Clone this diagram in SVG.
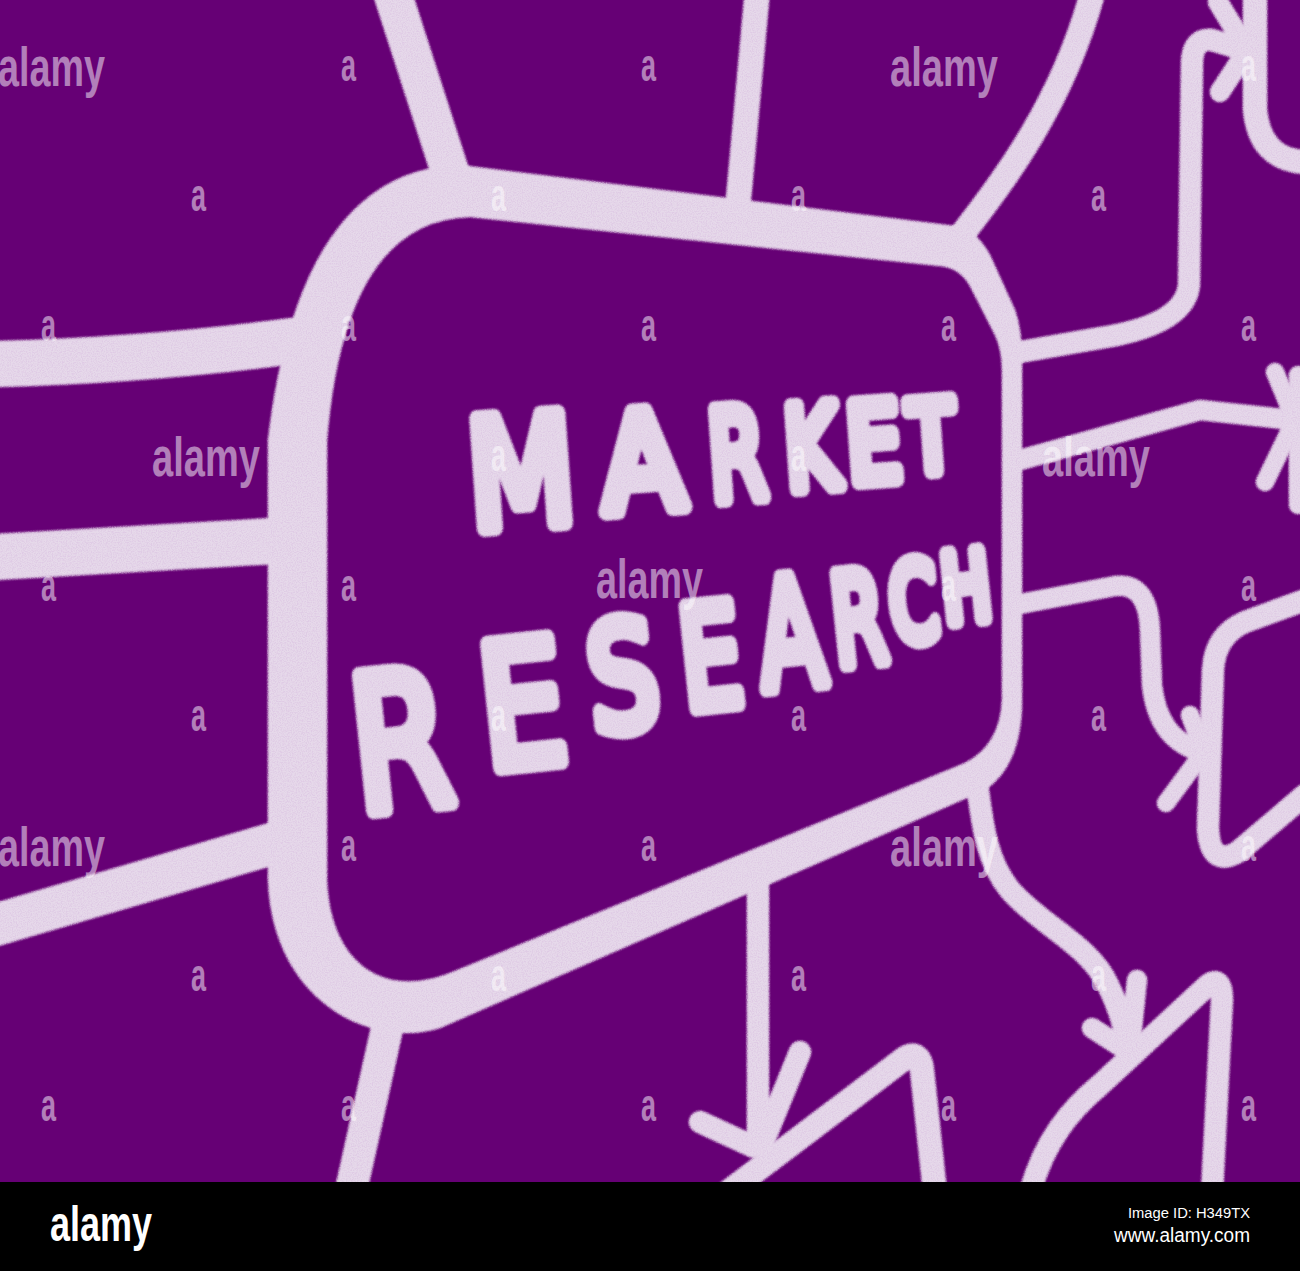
<svg xmlns="http://www.w3.org/2000/svg" width="1300" height="1271" viewBox="0 0 1300 1271">
<defs>
<style>
.ln{fill:none;stroke:#e6d9ea;stroke-linecap:round;stroke-linejoin:round}
.lt{fill:#e6d9ea;stroke:#e6d9ea;stroke-width:17;stroke-linejoin:round;stroke-linecap:round;font-family:"DejaVu Sans","Liberation Sans",sans-serif;font-weight:normal}
.wm{fill:#ffffff;fill-opacity:0.5;font-family:"Liberation Sans",Arial,sans-serif;font-weight:bold}
.ft{fill:#ffffff;font-family:"Liberation Sans",Arial,sans-serif}
</style>
<filter id="chalk" filterUnits="userSpaceOnUse" x="0" y="0" width="1300" height="1190">
<feTurbulence type="fractalNoise" baseFrequency="0.8" numOctaves="2" seed="7" result="noise"/>
<feColorMatrix in="noise" type="matrix" values="0 0 0 0 0.74  0 0 0 0 0.6  0 0 0 0 0.78  0 0 0 -3 1.85" result="spk"/>
<feGaussianBlur in="SourceGraphic" stdDeviation="1.3" result="soft"/>
<feComposite in="spk" in2="soft" operator="in" result="spkIn"/>
<feMerge><feMergeNode in="soft"/><feMergeNode in="spkIn"/></feMerge>
</filter>
</defs>
<rect x="0" y="0" width="1300" height="1271" fill="#660075"/>

<g id="connectors" filter="url(#chalk)">
<path class="ln" stroke-width="38" d="M393 -5 L452 178"/>
<path class="ln" stroke-width="25" d="M757 -5 L738 205"/>
<path class="ln" stroke-width="25" d="M958 240 C1000 185 1060 110 1092 -5"/>
<path class="ln" stroke-width="46" d="M-5 364 Q150 360 292 341"/>
<path class="ln" stroke-width="46" d="M-5 557 Q150 548 292 540"/>
<path class="ln" stroke-width="42" d="M-5 925 L292 838"/>
<path class="ln" stroke-width="32" d="M390 1015 L350 1195"/>
<path class="ln" stroke-width="22" d="M758 885 L758 1145"/>
<path class="ln" stroke-width="22" d="M700 1122 L754 1147 M800 1052 L762 1145"/>
<path class="ln" stroke-width="22" d="M976 775 C982 820 985 860 1010 890 C1040 925 1090 945 1108 985 C1120 1010 1126 1030 1128 1050"/>
<path class="ln" stroke-width="20" d="M1092 1028 L1126 1050 M1137 980 L1130 1048"/>
<path class="ln" stroke-width="22" d="M1020 352 L1100 338 Q1185 325 1189 285 L1192 62 Q1193 38 1212 40 L1245 50"/>
<path class="ln" stroke-width="20" d="M1218 2 L1246 48 M1220 92 L1246 52"/>
<path class="ln" stroke-width="20" d="M1020 460 L1200 410 L1293 420"/>
<path class="ln" stroke-width="18" d="M1275 372 L1294 418 M1265 482 L1294 422"/>
<path class="ln" stroke-width="20" d="M1020 604 L1115 586 Q1148 582 1150 630 L1152 685 Q1158 740 1202 752"/>
<path class="ln" stroke-width="18" d="M1190 715 L1203 750 M1166 803 L1203 753"/>
</g>

<g id="node-market-research" filter="url(#chalk)">
<path fill="#e6d9ea" fill-rule="evenodd" d="M268 880 L268 440 Q300 170 460 165 L955 226 Q975 228 990 255 L1015 310 Q1022 330 1022 360 L1022 700 Q1022 765 985 790 L440 1028 C370 1050 272 1000 268 880 Z M327 880 L327 440 Q345 220 470 217 L940 266 Q962 268 972 290 L995 335 Q1002 350 1002 370 L1002 700 Q1000 745 965 763 L450 973 C380 1000 330 960 327 880 Z"/>
<text class="lt" font-size="150" x="472" y="529" textLength="106" lengthAdjust="spacingAndGlyphs" transform="rotate(-4 472 529)">M</text>
<text class="lt" font-size="134" x="605" y="512" textLength="81" lengthAdjust="spacingAndGlyphs" transform="rotate(-4 605 512)">A</text>
<text class="lt" font-size="123" x="712" y="500" textLength="56" lengthAdjust="spacingAndGlyphs" transform="rotate(-4 712 500)">R</text>
<text class="lt" font-size="112" x="788" y="489" textLength="52" lengthAdjust="spacingAndGlyphs" transform="rotate(-4 788 489)">K</text>
<text class="lt" font-size="106" x="850" y="482" textLength="53" lengthAdjust="spacingAndGlyphs" transform="rotate(-4 850 482)">E</text>
<text class="lt" font-size="95" x="912" y="472" textLength="44" lengthAdjust="spacingAndGlyphs" transform="rotate(-4 912 472)">T</text>
<text class="lt" font-size="186" x="359" y="812" textLength="98" lengthAdjust="spacingAndGlyphs" transform="rotate(-6 359 812)">R</text>
<text class="lt" font-size="170" x="487" y="769" textLength="84" lengthAdjust="spacingAndGlyphs" transform="rotate(-6 487 769)">E</text>
<text class="lt" font-size="147" x="594" y="732" textLength="69" lengthAdjust="spacingAndGlyphs" transform="rotate(-6 594 732)">S</text>
<text class="lt" font-size="139" x="686" y="709" textLength="60" lengthAdjust="spacingAndGlyphs" transform="rotate(-6 686 709)">E</text>
<text class="lt" font-size="149" x="764" y="689" textLength="64" lengthAdjust="spacingAndGlyphs" transform="rotate(-6 764 689)">A</text>
<text class="lt" font-size="124" x="837" y="665" textLength="52" lengthAdjust="spacingAndGlyphs" transform="rotate(-6 837 665)">R</text>
<text class="lt" font-size="106" x="894" y="642" textLength="47" lengthAdjust="spacingAndGlyphs" transform="rotate(-6 894 642)">C</text>
<text class="lt" font-size="92" x="946" y="622" textLength="47" lengthAdjust="spacingAndGlyphs" transform="rotate(-6 946 622)">H</text>
</g>

<g id="node-bottom" filter="url(#chalk)">
<path class="ln" stroke-width="24" d="M728 1192 L905 1058 Q920 1050 922 1070 L935 1192"/>
</g>
<g id="node-bottom-right" filter="url(#chalk)">
<path class="ln" stroke-width="22" d="M1030 1192 C1045 1140 1070 1110 1100 1085 L1208 985 Q1222 975 1222 1000 L1212 1192"/>
</g>
<g id="node-right-top" filter="url(#chalk)">
<path class="ln" stroke-width="24" d="M1255 -5 L1255 110 Q1260 160 1305 162"/>
</g>
<g id="node-right-middle" filter="url(#chalk)">
<path class="ln" stroke-width="18" d="M1298 375 L1298 505"/>
</g>
<g id="node-right-lower" filter="url(#chalk)">
<path class="ln" stroke-width="22" d="M1305 600 L1245 622 Q1215 635 1213 670 L1208 828 Q1210 868 1238 852 L1305 795"/>
</g>

<g id="watermarks" class="wm">
<g font-size="56">
<text x="-2" y="86" textLength="107" lengthAdjust="spacingAndGlyphs">alamy</text>
<text x="890" y="86" textLength="108" lengthAdjust="spacingAndGlyphs">alamy</text>
<text x="152" y="476" textLength="108" lengthAdjust="spacingAndGlyphs">alamy</text>
<text x="596" y="598" textLength="107" lengthAdjust="spacingAndGlyphs">alamy</text>
<text x="1042" y="476" textLength="108" lengthAdjust="spacingAndGlyphs">alamy</text>
<text x="-2" y="866" textLength="107" lengthAdjust="spacingAndGlyphs">alamy</text>
<text x="890" y="866" textLength="108" lengthAdjust="spacingAndGlyphs">alamy</text>
</g>
<g font-size="46">
<text x="341" y="81" textLength="15" lengthAdjust="spacingAndGlyphs">a</text>
<text x="641" y="81" textLength="15" lengthAdjust="spacingAndGlyphs">a</text>
<text x="1241" y="81" textLength="15" lengthAdjust="spacingAndGlyphs">a</text>
<text x="191" y="211" textLength="15" lengthAdjust="spacingAndGlyphs">a</text>
<text x="491" y="211" textLength="15" lengthAdjust="spacingAndGlyphs">a</text>
<text x="791" y="211" textLength="15" lengthAdjust="spacingAndGlyphs">a</text>
<text x="1091" y="211" textLength="15" lengthAdjust="spacingAndGlyphs">a</text>
<text x="41" y="341" textLength="15" lengthAdjust="spacingAndGlyphs">a</text>
<text x="341" y="341" textLength="15" lengthAdjust="spacingAndGlyphs">a</text>
<text x="641" y="341" textLength="15" lengthAdjust="spacingAndGlyphs">a</text>
<text x="941" y="341" textLength="15" lengthAdjust="spacingAndGlyphs">a</text>
<text x="1241" y="341" textLength="15" lengthAdjust="spacingAndGlyphs">a</text>
<text x="491" y="471" textLength="15" lengthAdjust="spacingAndGlyphs">a</text>
<text x="791" y="471" textLength="15" lengthAdjust="spacingAndGlyphs">a</text>
<text x="41" y="601" textLength="15" lengthAdjust="spacingAndGlyphs">a</text>
<text x="341" y="601" textLength="15" lengthAdjust="spacingAndGlyphs">a</text>
<text x="941" y="601" textLength="15" lengthAdjust="spacingAndGlyphs">a</text>
<text x="1241" y="601" textLength="15" lengthAdjust="spacingAndGlyphs">a</text>
<text x="191" y="731" textLength="15" lengthAdjust="spacingAndGlyphs">a</text>
<text x="491" y="731" textLength="15" lengthAdjust="spacingAndGlyphs">a</text>
<text x="791" y="731" textLength="15" lengthAdjust="spacingAndGlyphs">a</text>
<text x="1091" y="731" textLength="15" lengthAdjust="spacingAndGlyphs">a</text>
<text x="341" y="861" textLength="15" lengthAdjust="spacingAndGlyphs">a</text>
<text x="641" y="861" textLength="15" lengthAdjust="spacingAndGlyphs">a</text>
<text x="1241" y="861" textLength="15" lengthAdjust="spacingAndGlyphs">a</text>
<text x="191" y="991" textLength="15" lengthAdjust="spacingAndGlyphs">a</text>
<text x="491" y="991" textLength="15" lengthAdjust="spacingAndGlyphs">a</text>
<text x="791" y="991" textLength="15" lengthAdjust="spacingAndGlyphs">a</text>
<text x="1091" y="991" textLength="15" lengthAdjust="spacingAndGlyphs">a</text>
<text x="41" y="1121" textLength="15" lengthAdjust="spacingAndGlyphs">a</text>
<text x="341" y="1121" textLength="15" lengthAdjust="spacingAndGlyphs">a</text>
<text x="641" y="1121" textLength="15" lengthAdjust="spacingAndGlyphs">a</text>
<text x="941" y="1121" textLength="15" lengthAdjust="spacingAndGlyphs">a</text>
<text x="1241" y="1121" textLength="15" lengthAdjust="spacingAndGlyphs">a</text>
</g>
</g>

<g id="footer">
<rect x="0" y="1182" width="1300" height="89" fill="#000000"/>
<text class="ft" x="50" y="1241" font-size="50" font-weight="bold" textLength="102" lengthAdjust="spacingAndGlyphs">alamy</text>
<text class="ft" x="1250" y="1218" font-size="14" text-anchor="end" textLength="122" lengthAdjust="spacingAndGlyphs">Image ID: H349TX</text>
<text class="ft" x="1250" y="1242" font-size="20" text-anchor="end" textLength="136" lengthAdjust="spacingAndGlyphs">www.alamy.com</text>
</g>
</svg>
